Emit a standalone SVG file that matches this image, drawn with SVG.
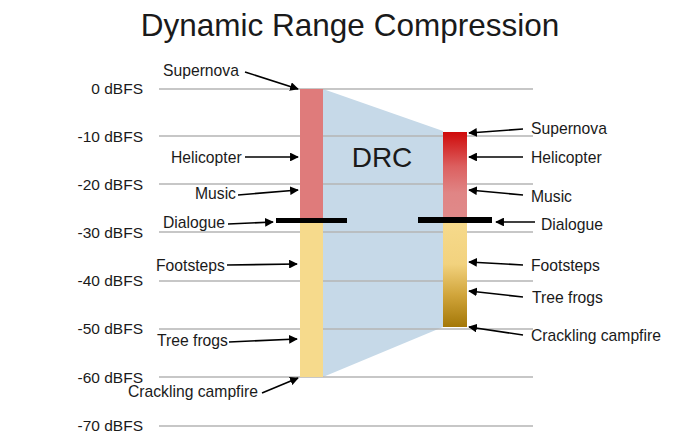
<svg xmlns="http://www.w3.org/2000/svg" width="700" height="446" viewBox="0 0 700 446">
<defs>
<style>
.t{font-family:"Liberation Sans",Arial,sans-serif;fill:#1a1a1a}
.ax{font-size:15.5px;text-anchor:end}
.lb{font-size:15.7px}
.grid line{stroke:#b5b5b5;stroke-width:1.3}
.arr path{fill:none;stroke:#000;stroke-width:1.6;marker-end:url(#ah)}
</style>
<marker id="ah" viewBox="0 0 10 10" refX="9" refY="5" markerWidth="5.5" markerHeight="5.5" orient="auto" markerUnits="strokeWidth">
<path d="M0,0 L10,5 L0,10 Z" fill="#000"/>
</marker>
<linearGradient id="rg" x1="0" y1="0" x2="0" y2="1">
<stop offset="0" stop-color="#cf0a0a"/>
<stop offset="0.4" stop-color="#dc6060"/>
<stop offset="0.7" stop-color="#e08585"/>
<stop offset="1" stop-color="#e08a8a"/>
</linearGradient>
<linearGradient id="yg" x1="0" y1="0" x2="0" y2="1">
<stop offset="0" stop-color="#f6da8c"/>
<stop offset="0.4" stop-color="#f2d27e"/>
<stop offset="0.7" stop-color="#d0a43a"/>
<stop offset="1" stop-color="#a47808"/>
</linearGradient>
</defs>
<rect width="700" height="446" fill="#fff"/>
<text class="t" x="350" y="36" font-size="31.5" text-anchor="middle">Dynamic Range Compression</text>

<g id="compression">
<polygon points="323,89 443,131 443,327 323,377" fill="#c6d9e8"/>
<text class="t" x="382" y="167" font-size="28" text-anchor="middle">DRC</text>
</g>

<g id="axis" class="grid">
<line x1="159" y1="89" x2="533" y2="89"/>
<line x1="159" y1="136" x2="533" y2="136"/>
<line x1="159" y1="184" x2="533" y2="184"/>
<line x1="159" y1="232" x2="533" y2="232"/>
<line x1="159" y1="281" x2="533" y2="281"/>
<line x1="159" y1="329" x2="533" y2="329"/>
<line x1="159" y1="377" x2="533" y2="377"/>
<line x1="159" y1="426" x2="533" y2="426"/>
</g>
<g id="axis-labels">
<text class="t ax" x="143" y="94">0 dBFS</text>
<text class="t ax" x="143" y="142">-10 dBFS</text>
<text class="t ax" x="143" y="190">-20 dBFS</text>
<text class="t ax" x="143" y="238">-30 dBFS</text>
<text class="t ax" x="143" y="286">-40 dBFS</text>
<text class="t ax" x="143" y="334">-50 dBFS</text>
<text class="t ax" x="143" y="383">-60 dBFS</text>
<text class="t ax" x="143" y="431">-70 dBFS</text>
</g>

<g id="before-bar">
<rect x="300" y="89" width="23" height="133" fill="#df7b7b"/>
<rect x="300" y="222" width="23" height="155" fill="#f6da8c"/>
<rect x="276" y="218" width="71" height="5" fill="#000"/>
</g>

<g id="after-bar">
<rect x="443" y="132" width="24" height="87" fill="url(#rg)"/>
<rect x="443" y="222" width="24" height="105" fill="url(#yg)"/>
<rect x="418" y="217" width="74" height="6" fill="#000"/>
</g>

<g id="labels-before">
<text class="t lb" x="163" y="76">Supernova</text>
<text class="t lb" x="171" y="163">Helicopter</text>
<text class="t lb" x="195" y="199">Music</text>
<text class="t lb" x="163" y="228">Dialogue</text>
<text class="t lb" x="156" y="271">Footsteps</text>
<text class="t lb" x="157" y="346">Tree frogs</text>
<text class="t lb" x="128" y="397">Crackling campfire</text>
</g>
<g id="labels-after">
<text class="t lb" x="531" y="134">Supernova</text>
<text class="t lb" x="531" y="163">Helicopter</text>
<text class="t lb" x="531" y="202">Music</text>
<text class="t lb" x="541" y="230">Dialogue</text>
<text class="t lb" x="531" y="271">Footsteps</text>
<text class="t lb" x="532" y="303">Tree frogs</text>
<text class="t lb" x="531" y="341">Crackling campfire</text>
</g>

<g id="connectors" class="arr">
<path d="M245,72 L298,89"/>
<path d="M245,157 L298,157"/>
<path d="M238,195 L298,190"/>
<path d="M228,224 L273,222"/>
<path d="M227,265 L297,264"/>
<path d="M229,342 L297,339"/>
<path d="M262,393 L298,378"/>
<path d="M523,129 L469,133"/>
<path d="M523,157 L469,157"/>
<path d="M523,195 L469,190"/>
<path d="M535,222 L496,222"/>
<path d="M523,265 L469,262"/>
<path d="M523,297 L469,291"/>
<path d="M523,335 L469,327"/>
</g>
</svg>
